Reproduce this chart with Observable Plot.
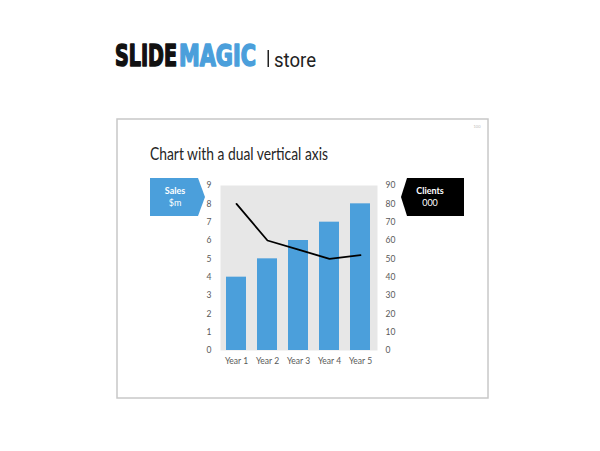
<!DOCTYPE html>
<html>
<head>
<meta charset="utf-8">
<script src="https://cdn.jsdelivr.net/npm/d3@7"></script>
<script src="https://cdn.jsdelivr.net/npm/@observablehq/plot@0.6"></script>
<style>
  html, body { margin: 0; padding: 0; background: #fff; }
  #page { position: relative; width: 600px; height: 451px; overflow: hidden; }
  #deco { position: absolute; left: 0; top: 0; }
  .chart { position: absolute; left: 190px; top: 170px; }
</style>
</head>
<body>
<div id="page">
  <svg id="deco" width="600" height="451" xmlns="http://www.w3.org/2000/svg">
    <g transform="translate(115,66) scale(1,1.44)">
      <text x="0" y="0" font-family="DejaVu Sans Condensed, DejaVu Sans" font-stretch="condensed" font-weight="bold" font-size="21" fill="#111" stroke="#111" stroke-width="1.1" stroke-linejoin="round" textLength="62" lengthAdjust="spacingAndGlyphs">SLIDE</text>
      <text x="64" y="0" font-family="DejaVu Sans Condensed, DejaVu Sans" font-stretch="condensed" font-weight="bold" font-size="21" fill="#4b9fdb" stroke="#4b9fdb" stroke-width="1.1" stroke-linejoin="round" textLength="77" lengthAdjust="spacingAndGlyphs">MAGIC</text>
    </g>
    <rect x="267.5" y="50" width="1.5" height="17" fill="#222"></rect>
    <text x="274" y="67" font-family="Roboto" font-size="20" fill="#222" textLength="42" lengthAdjust="spacingAndGlyphs">store</text>
    <rect x="117" y="119" width="371" height="279" fill="none" stroke="#c8c8c8" stroke-width="1.5"></rect>
    <text x="477" y="128" font-family="Lato" font-size="4" fill="#bbb" text-anchor="middle">100</text>
    <text x="150" y="160" font-family="Lato" font-size="17" fill="#262626" textLength="178" lengthAdjust="spacingAndGlyphs">Chart with a dual vertical axis</text>
    <path d="M150,178 H198 L205,197 L198,216 H150 Z" fill="#4b9fdb"></path>
    <text x="175" y="194" font-family="Lato" font-weight="bold" font-size="9" fill="#fff" text-anchor="middle">Sales</text>
    <text x="175" y="206" font-family="Lato" font-size="9" fill="#fff" text-anchor="middle">$m</text>
    <path d="M401,197 L407,178 H464 V216 H407 Z" fill="#000"></path>
    <text x="430" y="194" font-family="Lato" font-weight="bold" font-size="9" fill="#fff" text-anchor="middle">Clients</text>
    <text x="430" y="206" font-family="Lato" font-size="9" fill="#fff" text-anchor="middle">000</text>
  </svg>
</div>
<script>
const years = ["Year 1", "Year 2", "Year 3", "Year 4", "Year 5"];
const sales = [4, 5, 6, 7, 8];          // $m, left axis
const clients = [80, 60, 55, 50, 52];   // 000, right axis
const salesTicks = [0, 1, 2, 3, 4, 5, 6, 7, 8, 9];
const clientTicks = [0, 10, 20, 30, 40, 50, 60, 70, 80, 90];

const table = years.map((y, i) => ({year: y, sales: sales[i], clients: clients[i]}));

const common = {
  width: 220, height: 210,
  marginLeft: 30, marginRight: 33, marginTop: 15, marginBottom: 30,
  style: {background: "transparent", fontFamily: "Lato", fontSize: "8.5px", color: "#595959", overflow: "visible"}
};
const xScale = {type: "band", domain: years, paddingInner: 0.34, paddingOuter: 0.16, label: null};

const barsChart = Plot.plot({
  ...common,
  x: xScale,
  y: {domain: [0, 9], label: null},
  marks: [
    Plot.frame({fill: "#e7e7e7", stroke: null}),
    Plot.barY(table, {x: "year", y: "sales", fill: "#4b9fdb"}),
    Plot.axisY({ticks: salesTicks, tickSize: 0, tickPadding: 9, label: null, fill: "#595959"}),
    Plot.axisX({tickSize: 0, tickPadding: 7, label: null, fill: "#595959"})
  ]
});
barsChart.classList.add("chart");

const lineChart = Plot.plot({
  ...common,
  x: {...xScale, axis: null},
  y: {domain: [0, 90], label: null},
  marks: [
    Plot.line(table, {x: "year", y: "clients", stroke: "#000", strokeWidth: 1.8}),
    Plot.axisY({anchor: "right", ticks: clientTicks, tickSize: 0, tickPadding: 8, label: null, fill: "#595959"})
  ]
});
lineChart.classList.add("chart");

const page = document.getElementById("page");
page.appendChild(barsChart);
page.appendChild(lineChart);
</script>
</body>
</html>
